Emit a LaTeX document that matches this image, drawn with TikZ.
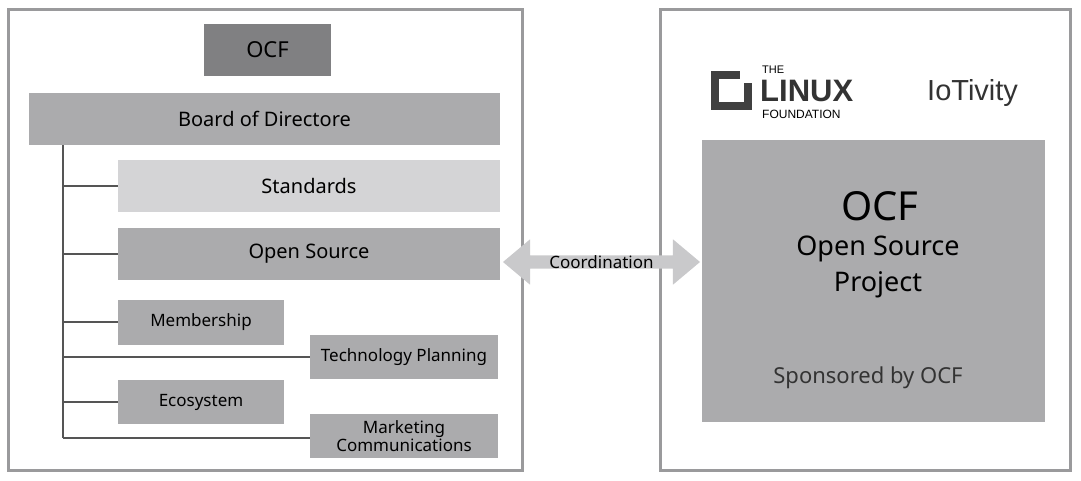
\documentclass[tikz,border=0pt]{standalone}
\usepackage{fontspec}
\setmainfont{Noto Sans}
\newfontfamily\logofont{Liberation Sans}
\usetikzlibrary{shapes.arrows}
\definecolor{frameg}{HTML}{9A9A9C}
\definecolor{darkg}{HTML}{808082}
\definecolor{midg}{HTML}{ABABAD}
\definecolor{lightg}{HTML}{D4D4D6}
\definecolor{arrowg}{HTML}{C9C9CB}
\definecolor{lineg}{HTML}{555555}
\tikzset{
  frame/.style={draw=frameg, line width=3pt},
  box/.style={fill=midg, inner sep=0pt},
  branch/.style={draw=lineg, line width=2.5pt},
}
\begin{document}
\begin{tikzpicture}[x=1pt,y=-1pt]
\useasboundingbox (0,0) rectangle (1081,481);
% frames
\draw[frame] (8,10) rectangle (522,470);
\draw[frame] (660,10) rectangle (1070,470);
% organisation chart
\draw[branch] (63,145) -- (63,438);
\foreach \yy/\xx in {186/118, 254/118, 322/118, 357/310, 402/118, 438/310}
  \draw[branch] (63,\yy) -- (\xx,\yy);
\node[box, fill=darkg, minimum width=127pt, minimum height=52pt, font=\fontsize{22}{24}\selectfont] (ocf) at (267.5,50) {OCF};
\node[box, minimum width=471pt, minimum height=52pt, font=\fontsize{20}{22}\selectfont] (board) at (264.5,119) {Board of Directore};
\node[box, fill=lightg, minimum width=382pt, minimum height=52pt, font=\fontsize{20}{22}\selectfont] (std) at (309,186) {Standards};
\node[box, minimum width=382pt, minimum height=52pt, font=\fontsize{20}{22}\selectfont] (opensrc) at (309,254) {Open Source};
\node[box, minimum width=166pt, minimum height=45pt, font=\fontsize{17}{19}\selectfont] (member) at (201,322) {Membership};
\node[box, minimum width=188pt, minimum height=44pt, font=\fontsize{17}{19}\selectfont] (tech) at (404,357) {Technology Planning};
\node[box, minimum width=166pt, minimum height=44pt, font=\fontsize{17}{19}\selectfont] (eco) at (201,402) {Ecosystem};
\node[box, minimum width=188pt, minimum height=44pt, align=center, font=\fontsize{17}{18}\selectfont] (market) at (404,436) {Marketing\\Communications};
% coordination arrow
\node[double arrow, fill=arrowg, minimum width=32pt, double arrow head extend=16pt, double arrow tip angle=80, minimum height=197pt, inner sep=0pt, font=\fontsize{17}{19}\selectfont] (coord) at (601.5,262) {Coordination};
% project box
\node[box, minimum width=343pt, minimum height=282pt] (project) at (873.5,281) {};
\node[font=\fontsize{40}{42}\selectfont] (pocf) at (880,206) {OCF};
\node[align=center, font=\fontsize{27}{36}\selectfont] (ptitle) at (878,267) {Open Source\\Project};
\node[font=\fontsize{22}{24}\selectfont, text=black!80] (sponsor) at (868,378) {Sponsored by OCF};
% logos
\draw[fill=black!75, draw=none] (711,71) rectangle (752,110);
\fill[white] (719,79) rectangle (744,102);
\fill[white] (740,71) rectangle (752,83);
\node[anchor=west, inner sep=0pt, font=\logofont\fontsize{11}{11}\selectfont] (lfthe) at (762,70) {THE};
\node[anchor=west, inner sep=0pt, font=\logofont\bfseries\fontsize{31}{31}\selectfont, text=black!80] (lflinux) at (760,91) {LINUX};
\node[anchor=west, inner sep=0pt, font=\logofont\fontsize{12}{12}\selectfont] (lffound) at (762,114) {FOUNDATION};
\node[anchor=west, inner sep=0pt, font=\logofont\fontsize{29}{29}\selectfont, text=black!80] (iot) at (927,93) {IoTivity};
\end{tikzpicture}
\end{document}
